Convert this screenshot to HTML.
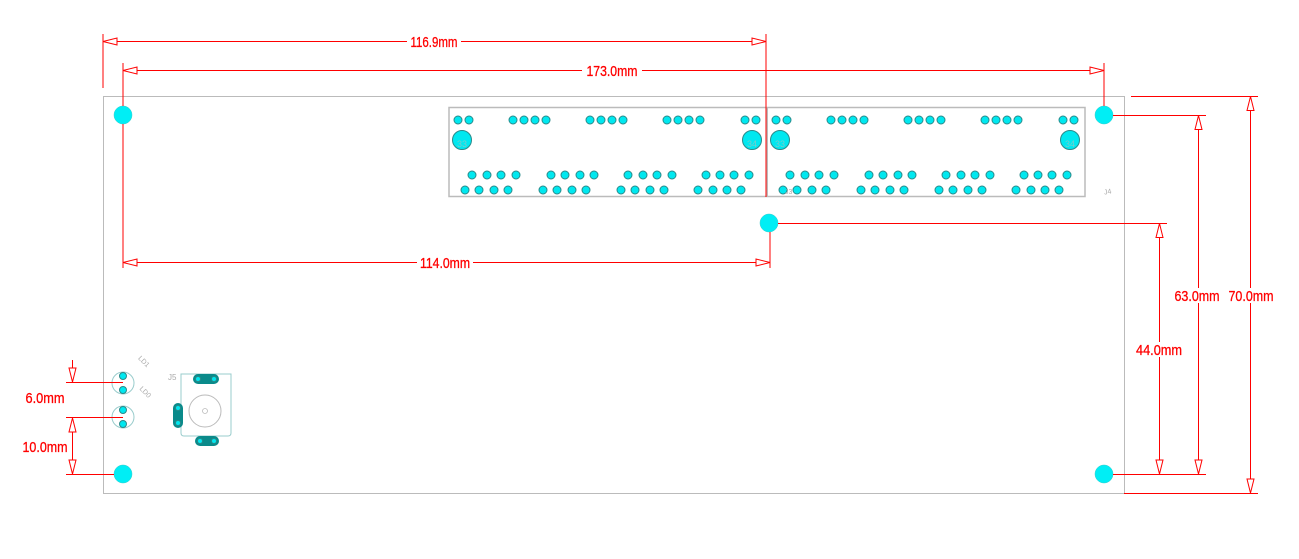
<!DOCTYPE html>
<html><head><meta charset="utf-8"><style>
html,body{margin:0;padding:0;background:#fff;width:1299px;height:559px;overflow:hidden}
svg{display:block}
.d{stroke:#f00;stroke-width:1;fill:none}
.ar{stroke:#f00;stroke-width:1;fill:#fff}
.t{font-family:"Liberation Sans",sans-serif;font-size:15px;fill:#f00;text-anchor:middle;stroke:#f00;stroke-width:0.3}
.bg{fill:#fff}
.pad{fill:#00e8f0;stroke:#2a8a8a;stroke-width:1}
.hole{fill:#00eef5;stroke:#3cc;stroke-width:0.5}
.sm{font-family:"Liberation Sans",sans-serif;font-size:7px;fill:#aaa}
</style></head><body>
<svg id="s" width="1299" height="559" xmlns="http://www.w3.org/2000/svg">
<rect x="103.5" y="96.5" width="1021" height="397" fill="none" stroke="#bbb" stroke-width="1"/>
<rect x="449" y="107.5" width="636" height="89" fill="none" stroke="#bbb" stroke-width="1.5"/>
<line x1="767" y1="107" x2="767" y2="197" stroke="#bbb" stroke-width="2"/>
<g id="pads"></g>
<circle class="hole" cx="123" cy="115" r="9"/>
<circle class="hole" cx="1104" cy="115" r="9"/>
<circle class="hole" cx="769" cy="223" r="9"/>
<circle class="hole" cx="123" cy="474" r="9"/>
<circle class="hole" cx="1104" cy="474" r="9"/>
<text class="sm" x="1104" y="194" transform="rotate(-10 1108 192)">J4</text>
<text class="sm" x="785" y="194">J3</text>

<circle cx="123" cy="383" r="11" fill="none" stroke="#9cc" stroke-width="1"/>
<circle cx="123" cy="417" r="11" fill="none" stroke="#9cc" stroke-width="1"/>
<circle class="pad" cx="123" cy="376" r="3.5"/><circle class="pad" cx="123" cy="390" r="3.5"/>
<circle class="pad" cx="123" cy="410" r="3.5"/><circle class="pad" cx="123" cy="424" r="3.5"/>
<text class="sm" x="138" y="362" transform="rotate(45 142 360)">LD1</text>
<text class="sm" x="138" y="392" transform="rotate(45 142 392)">LD0</text>
<text class="sm" x="168" y="380" style="font-size:8px">J5</text>
<path d="M181 374 H231 V433 Q231 436 228 436 H184 Q181 436 181 433 Z" fill="none" stroke="#9cc" stroke-width="1"/>
<circle cx="205" cy="411" r="16" fill="none" stroke="#bbb" stroke-width="1"/>
<circle cx="205" cy="411" r="2.5" fill="none" stroke="#bbb" stroke-width="0.8"/>
<rect x="193" y="374" width="26" height="10" rx="5" fill="#0a8a8a"/>
<rect x="195" y="436" width="24" height="10" rx="5" fill="#0a8a8a"/>
<rect x="173" y="403" width="10" height="25" rx="5" fill="#0a8a8a"/>
<circle class="pad" cx="198" cy="379" r="2.5"/><circle class="pad" cx="214" cy="379" r="2.5"/>
<circle class="pad" cx="200" cy="441" r="2.5"/><circle class="pad" cx="214" cy="441" r="2.5"/>
<circle class="pad" cx="178" cy="408" r="2.5"/><circle class="pad" cx="178" cy="423" r="2.5"/>

<line class="d" x1="103" y1="34" x2="103" y2="88"/>
<line class="d" x1="766" y1="34" x2="766" y2="197"/>
<line class="d" x1="103" y1="41.5" x2="766" y2="41.5"/>
<line class="d" x1="123" y1="63" x2="123" y2="106"/>
<line class="d" x1="1104" y1="63" x2="1104" y2="106"/>
<line class="d" x1="123" y1="70.5" x2="1104" y2="70.5"/>
<line class="d" x1="123" y1="124" x2="123" y2="268"/>
<line class="d" x1="770" y1="232" x2="770" y2="268"/>
<line class="d" x1="123" y1="262.5" x2="770" y2="262.5"/>
<line class="d" x1="1131" y1="96.5" x2="1258" y2="96.5"/>
<line class="d" x1="1124" y1="493.5" x2="1258" y2="493.5"/>
<line class="d" x1="1250.5" y1="96" x2="1250.5" y2="493"/>
<line class="d" x1="1113" y1="115.5" x2="1206" y2="115.5"/>
<line class="d" x1="1113" y1="474.5" x2="1206" y2="474.5"/>
<line class="d" x1="1198.5" y1="115" x2="1198.5" y2="474"/>
<line class="d" x1="778" y1="223.5" x2="1167" y2="223.5"/>
<line class="d" x1="1159.5" y1="223" x2="1159.5" y2="474"/>
<line class="d" x1="66" y1="382.5" x2="123" y2="382.5"/>
<line class="d" x1="66" y1="417.5" x2="123" y2="417.5"/>
<line class="d" x1="66" y1="474.5" x2="114" y2="474.5"/>
<line class="d" x1="72.5" y1="360" x2="72.5" y2="382"/>
<line class="d" x1="72.5" y1="418" x2="72.5" y2="474"/>

<g id="arr"></g>

<rect class="bg" x="407" y="34" width="54" height="15"/><text class="t" x="434" y="47" textLength="47" lengthAdjust="spacingAndGlyphs">116.9mm</text>
<rect class="bg" x="582" y="63" width="60" height="15"/><text class="t" x="612" y="76" textLength="51" lengthAdjust="spacingAndGlyphs">173.0mm</text>
<rect class="bg" x="417" y="255" width="56" height="15"/><text class="t" x="445" y="268" textLength="50" lengthAdjust="spacingAndGlyphs">114.0mm</text>
<rect class="bg" x="1171" y="288" width="52" height="15"/><text class="t" x="1197" y="301" textLength="45" lengthAdjust="spacingAndGlyphs">63.0mm</text>
<rect class="bg" x="1224" y="288" width="52" height="15"/><text class="t" x="1251" y="301" textLength="45" lengthAdjust="spacingAndGlyphs">70.0mm</text>
<rect class="bg" x="1133" y="342" width="52" height="15"/><text class="t" x="1159" y="355" textLength="46" lengthAdjust="spacingAndGlyphs">44.0mm</text>
<text class="t" x="45" y="403" textLength="39" lengthAdjust="spacingAndGlyphs">6.0mm</text>
<text class="t" x="45" y="452" textLength="45" lengthAdjust="spacingAndGlyphs">10.0mm</text>
</svg>
<script>
(function(){
var ns="http://www.w3.org/2000/svg";
var g=document.getElementById('pads');
function c(x,y,r){var e=document.createElementNS(ns,'circle');e.setAttribute('cx',x);e.setAttribute('cy',y);e.setAttribute('r',r);e.setAttribute('class','pad');g.appendChild(e);}
function t(x,y,s){var e=document.createElementNS(ns,'text');e.setAttribute('x',x);e.setAttribute('y',y);e.setAttribute('class','sm');e.setAttribute('style','font-size:9px;fill:#7cc');e.setAttribute('text-anchor','middle');e.textContent=s;g.appendChild(e);}
var r1=[458,469,513,524,535,546,590,601,612,623,667,678,689,700,745,756];
var r2=[472,487,501,516,551,565,580,594,628,643,657,672,706,720,734,749];
var r3=[465,479,494,508,543,557,572,586,621,635,650,664,698,713,727,741];
[0,318].forEach(function(o){
 r1.forEach(function(x){c(x+o,120,4);});
 r2.forEach(function(x){c(x+o,175,4);});
 r3.forEach(function(x){c(x+o,190,4);});
 c(462+o,140,9.5);c(752+o,140,9.5);
 t(462+o,147,'33');t(752+o,147,'34');
});
var a=document.getElementById('arr');
function ar(x,y,dir){
 var L=14,W=3.5,p;
 if(dir=='L')p=[x,y,x+L,y-W,x+L,y+W];
 if(dir=='R')p=[x,y,x-L,y-W,x-L,y+W];
 if(dir=='U')p=[x,y,x-W,y+L,x+W,y+L];
 if(dir=='D')p=[x,y,x-W,y-L,x+W,y-L];
 var e=document.createElementNS(ns,'polygon');e.setAttribute('points',p.join(' '));e.setAttribute('class','ar');a.appendChild(e);}
ar(103,41.5,'L');ar(766,41.5,'R');
ar(123,70.5,'L');ar(1104,70.5,'R');
ar(123,262.5,'L');ar(770,262.5,'R');
ar(1250.5,96.5,'U');ar(1250.5,493,'D');
ar(1198.5,115.5,'U');ar(1198.5,474,'D');
ar(1159.5,223.5,'U');ar(1159.5,474,'D');
ar(72.5,382,'D');
ar(72.5,418,'U');ar(72.5,474,'D');
})();
</script>
</body></html>
